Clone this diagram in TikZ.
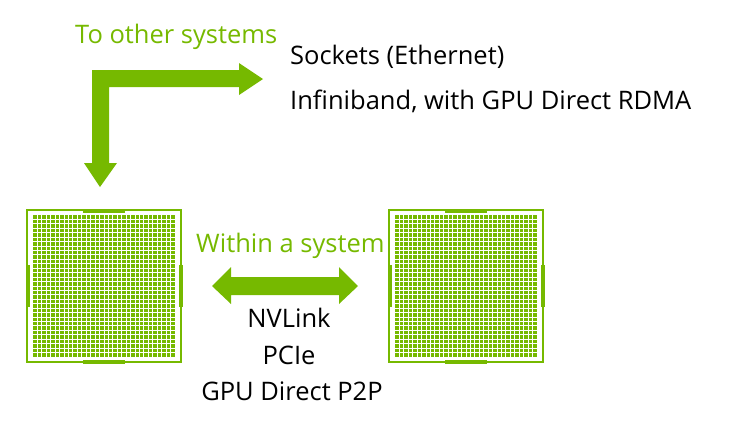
\documentclass[tikz,border=0pt]{standalone}
\usepackage{fontspec}
\setmainfont{Open Sans}
\definecolor{nv}{HTML}{76B900}
\begin{document}
\begin{tikzpicture}[x=1pt,y=-1pt,
  lbl/.style={font=\fontsize{25.5}{30}\selectfont,inner sep=0pt},
  glbl/.style={lbl,text=nv},
  chip/.pic={
    \fill[nv] (6,5) rectangle (148,147);
    \foreach \i in {1,...,31}{
      \draw[white,line width=0.9pt] ({6+\i*142/32},5) -- ({6+\i*142/32},147);
      \draw[white,line width=0.9pt] (6,{5+\i*142/32}) -- (148,{5+\i*142/32});}
    \draw[nv,line width=2pt] (0,0) rectangle (154,152);
    \fill[nv] (56,-1.5) rectangle (98,2.5);
    \fill[nv] (56,149.5) rectangle (98,153.5);
    \fill[nv] (-1.5,55) rectangle (2.5,97);
    \fill[nv] (151.5,55) rectangle (155.5,97);
  }]
\useasboundingbox (0,0) rectangle (729,421);
\pic (c1) at (27,210) {chip};
\pic (c2) at (389,210) {chip};
\fill[nv] (92,70) -- (239,70) -- (239,63) -- (263,79) -- (239,95) -- (239,87) -- (109,87)
  -- (109,163) -- (117,163) -- (100,187) -- (84,163) -- (92,163) -- cycle;
\fill[nv] (212,286) -- (231,267) -- (231,277) -- (339,277) -- (339,267) -- (358,286)
  -- (339,304) -- (339,295) -- (231,295) -- (231,304) -- cycle;
\node[glbl,anchor=west] (t1) at (75,37) {To other systems};
\node[lbl,anchor=west] (s1) at (290,57) {Sockets (Ethernet)};
\node[lbl,anchor=west] (s2) at (290,101) {Infiniband, with GPU Direct RDMA};
\node[glbl,anchor=west] (t2) at (196,246) {Within a system};
\node[lbl] (n1) at (289,318) {NVLink};
\node[lbl] (n2) at (289,355) {PCIe};
\node[lbl] (n3) at (292,391) {GPU Direct P2P};
\end{tikzpicture}
\end{document}
